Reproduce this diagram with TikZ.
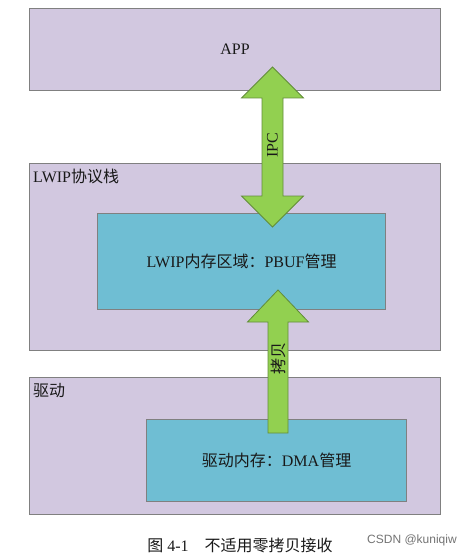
\documentclass[tikz,border=0pt]{standalone}
\usepackage{fontspec}
\setmainfont{Liberation Serif}
\newfontfamily\cjk{Noto Sans CJK SC}
\newfontfamily\wmfont{Liberation Sans}
\usetikzlibrary{calc}

\definecolor{layerfill}{RGB}{210,200,224}
\definecolor{memfill}{RGB}{111,190,211}
\definecolor{arrowfill}{RGB}{146,208,80}
\definecolor{arrowline}{RGB}{98,140,58}
\definecolor{boxline}{RGB}{128,128,128}

\begin{document}
\begin{tikzpicture}
        [
            x = 1pt, y = -1pt,
            every node/.style = {font = \fontsize{16pt}{19pt}\selectfont, text = black!90},
            layer/.style = {draw = boxline, fill = layerfill, line width = 1.2pt, anchor = north west, inner sep = 0pt},
            memory/.style = {draw = boxline, fill = memfill, line width = 1.2pt, anchor = north west, inner sep = 0pt},
            title/.style = {anchor = north west, inner sep = 3pt},
            bigarrow/.style = {draw = arrowline, fill = arrowfill, line width = 0.8pt, line join = miter}
        ]

        \useasboundingbox (0,0) rectangle (472,556);

        % layers
        \node [layer, minimum width = 411pt, minimum height = 82pt] (app) at (29,8) {APP};
        \node [layer, minimum width = 411pt, minimum height = 187pt] (lwip) at (29,163) {};
        \node [title] (lwip title) at ($(lwip.north west)+(1,3)$) {LWIP{\cjk 协议栈}};
        \node [memory, minimum width = 288pt, minimum height = 96pt] (pbuf) at (97,213) {LWIP{\cjk 内存区域：}PBUF{\cjk 管理}};
        \node [layer, minimum width = 411pt, minimum height = 137pt] (driver) at (29,377) {};
        \node [title] (driver title) at ($(driver.north west)+(1,3)$) {\cjk 驱动};
        \node [memory, minimum width = 260pt, minimum height = 82pt] (dma) at (146,419) {{\cjk 驱动内存：}DMA{\cjk 管理}};

        % IPC double arrow
        \coordinate (ipc top) at (272.5,67);
        \coordinate (ipc bottom) at (272.5,227);
        \draw [bigarrow] (ipc top) -- ($(ipc top)+(31,31)$) -- ($(ipc top)+(10.5,31)$)
            -- ($(ipc bottom)+(10.5,-31)$) -- ($(ipc bottom)+(31,-31)$) -- (ipc bottom)
            -- ($(ipc bottom)+(-31,-31)$) -- ($(ipc bottom)+(-10.5,-31)$)
            -- ($(ipc top)+(-10.5,31)$) -- ($(ipc top)+(-31,31)$) -- cycle;
        \node [rotate = 90, inner sep = 0pt] (ipc) at ($(ipc top)!0.49!(ipc bottom)$) {IPC};

        % copy arrow
        \coordinate (copy tip) at (278,290);
        \coordinate (copy tail) at (278,433);
        \draw [bigarrow] (copy tip) -- ($(copy tip)+(30.5,32)$) -- ($(copy tip)+(10,32)$)
            -- ($(copy tail)+(10,0)$) -- ($(copy tail)+(-10,0)$)
            -- ($(copy tip)+(-10,32)$) -- ($(copy tip)+(-30.5,32)$) -- cycle;
        \node [rotate = 90, inner sep = 0pt] (copy) at ($(copy tip)!0.48!(copy tail)$) {\cjk 拷贝};

        % caption
        \node (caption) at (240,545) {{\cjk 图}\ 4-1\quad{\cjk 不适用零拷贝接收}};
        \node [font = \wmfont\fontsize{12pt}{14pt}\selectfont, text = black!55] (csdn) at (412,540) {CSDN @kuniqiw};
\end{tikzpicture}
\end{document}
